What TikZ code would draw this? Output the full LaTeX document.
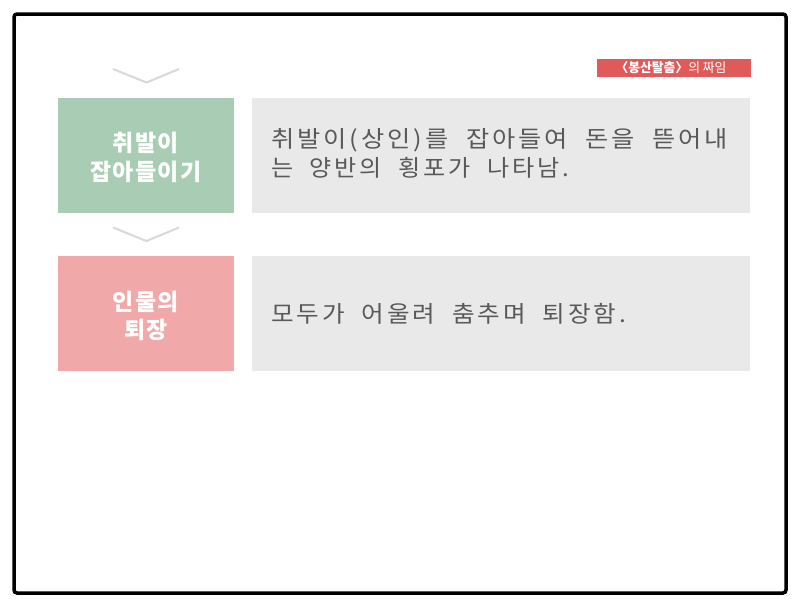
\documentclass[tikz,border=0pt]{standalone}
\usepackage{fontspec}
\usepackage{graphicx}
\newfontfamily\kr{Noto Sans CJK KR}
\newfontfamily\krlab[LetterSpace=6]{Noto Sans CJK KR}
\newfontfamily\krbody[LetterSpace=12,WordSpace=2]{Noto Sans CJK KR}
\newcommand{\fitline}[2]{\resizebox{#1}{\height}{#2}}
\definecolor{framec}{HTML}{000000}
\definecolor{greenc}{HTML}{A8CDB4}
\definecolor{pinkc}{HTML}{F0A8A8}
\definecolor{grayc}{HTML}{E9E9E9}
\definecolor{textc}{HTML}{595959}
\definecolor{chevc}{HTML}{D9D9D9}
\definecolor{redc}{HTML}{E05A5A}
\tikzset{
  catbox/.style={draw=none,inner sep=0pt,minimum width=176pt,minimum height=115pt},
  cattext/.style={inner sep=0pt,align=center,text=white,font=\krlab\bfseries\fontsize{23}{28.5}\selectfont},
  descbox/.style={fill=grayc,draw=none,inner sep=0pt,minimum width=498pt,minimum height=115pt},
  desctext/.style={anchor=west,inner sep=0pt,align=left,text=textc,font=\krbody\fontsize{23}{29}\selectfont},
  chev/.style={draw=chevc,line width=2pt},
  tagbox/.style={fill=redc,inner sep=0pt,minimum width=154pt,minimum height=18pt},
  tagtext/.style={inner sep=0pt,text=white,font=\kr\fontsize{13}{14}\selectfont}
}
\begin{document}
\begin{tikzpicture}[x=1pt,y=-1pt]
\useasboundingbox (0,0) rectangle (800,608);
\fill[white] (0,0) rectangle (800,608);
\draw[framec,line width=3.5pt,rounded corners=3pt] (14,14) rectangle (786,593);
% tag
\node[tagbox] (tag) at (674,68) {};
\node[tagtext] (tagt) at (671,68) {\fitline{111pt}{{\bfseries 〈봉산탈춤〉}의 짜임}};
% chevrons
\coordinate (c1a) at (113,69);
\coordinate (c1b) at (146.5,82.5);
\coordinate (c1c) at (179,69);
\draw[chev] (c1a) -- (c1b) -- (c1c);
\coordinate (c2a) at (113,227.5);
\coordinate (c2b) at (146.5,241);
\coordinate (c2c) at (179,227.5);
\draw[chev] (c2a) -- (c2b) -- (c2c);
% row 1
\node[catbox,fill=greenc] (cat1) at (146,155) {};
\node[cattext] (cat1t) at ([yshift=-2.5pt]cat1.center) {취발이\\잡아들이기};
\node[descbox] (desc1) at (501,155) {};
\node[desctext] (txt1) at ([xshift=19pt,yshift=1.5pt]desc1.west) {\fitline{457pt}{취발이(상인)를 잡아들여 돈을 뜯어내}\\\fitline{298pt}{는 양반의 횡포가 나타남.}};
% row 2
\node[catbox,fill=pinkc] (cat2) at (146,313.5) {};
\node[cattext] (cat2t) at ([yshift=-2.5pt]cat2.center) {인물의\\퇴장};
\node[descbox] (desc2) at (501,313.5) {};
\node[desctext] (txt2) at ([xshift=19pt]desc2.west) {\fitline{355pt}{모두가 어울려 춤추며 퇴장함.}};
\end{tikzpicture}
\end{document}
